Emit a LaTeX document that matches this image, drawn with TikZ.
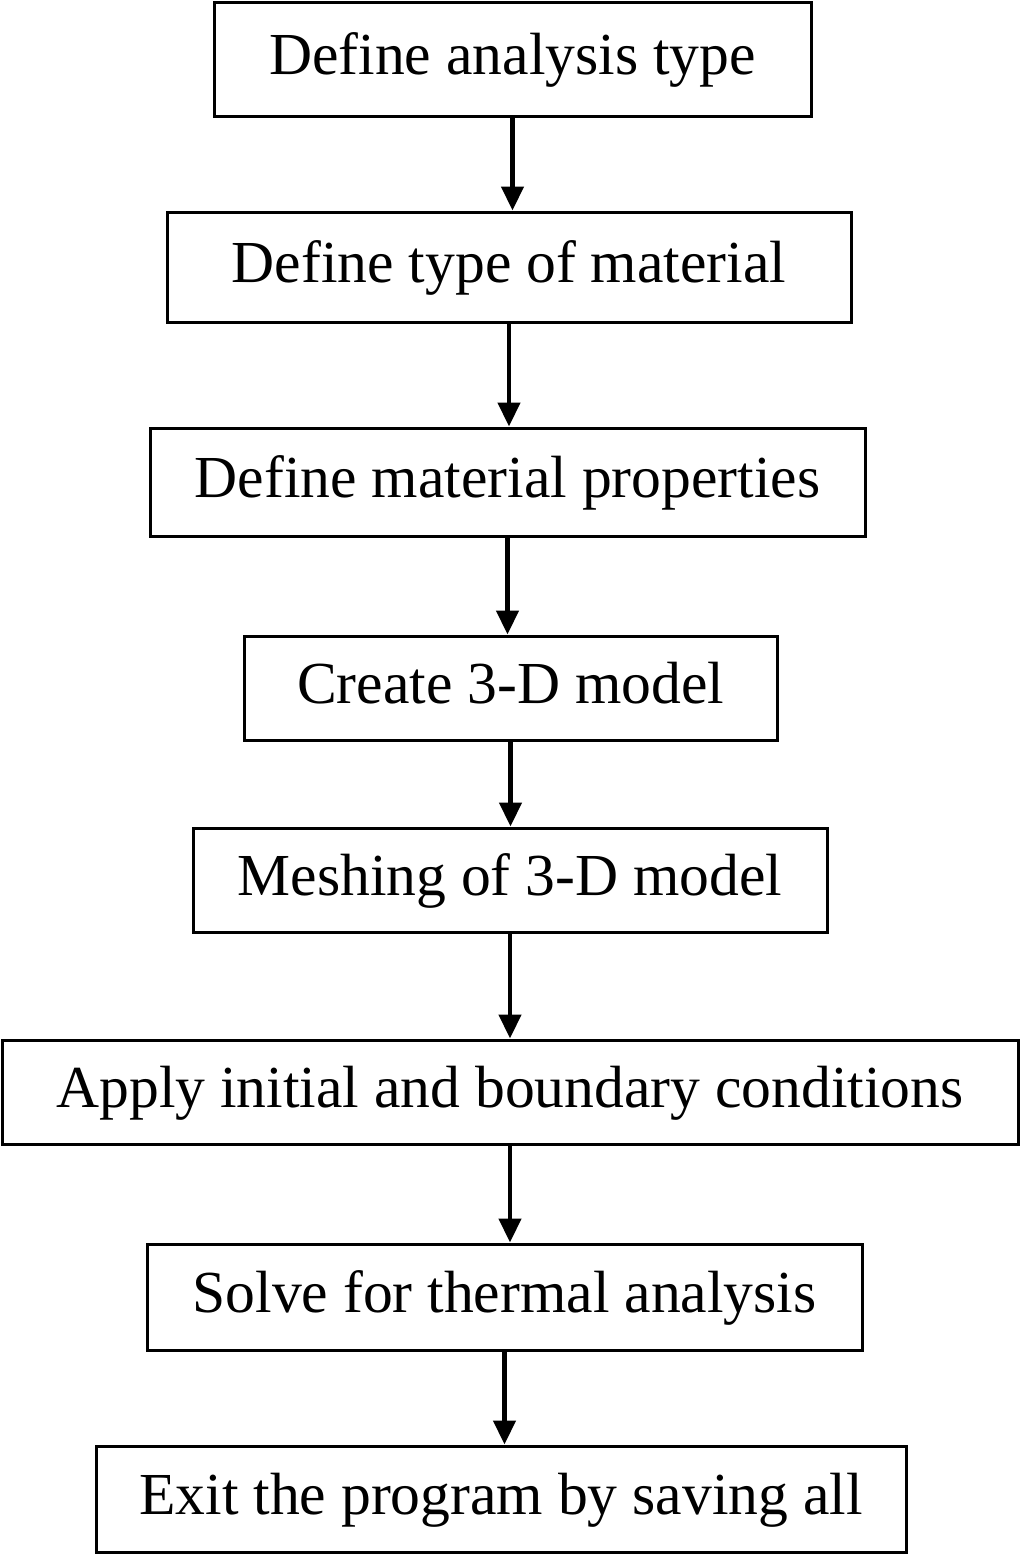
\documentclass[tikz,border=0pt]{standalone}
\usepackage{fontspec}
\setmainfont{Liberation Serif}
\usetikzlibrary{arrows.meta, positioning}

\begin{document}
\begin{tikzpicture}[x=0.5pt, y=-0.5pt,
    stage/.style={draw, line width=1.5pt, inner sep=0pt, text height=20pt, text depth=5pt, font=\fontsize{29.8}{32}\selectfont},
    flow/.style={line width=2.2pt, -{Triangle[length=12pt, width=11pt]}}]
    % Frame
    \useasboundingbox (0,0) rectangle (1020,1555);

    % Steps
    \node[stage, minimum width=298.5pt, minimum height=57pt] (Analysis) at (512.5,59) {Define analysis type};
    \node[stage, minimum width=342pt, minimum height=55pt] (MatType) at (509,267) {Define type of material};
    \node[stage, minimum width=357.5pt, minimum height=54pt] (MatProp) at (507.5,482) {Define material properties};
    \node[stage, minimum width=266.5pt, minimum height=52pt] (Model) at (510.5,688) {Create 3-D model};
    \node[stage, minimum width=317pt, minimum height=52pt] (Mesh) at (510,880) {Meshing of 3-D model};
    \node[stage, minimum width=508pt, minimum height=52pt] (Bound) at (510,1092) {Apply initial and boundary conditions};
    \node[stage, minimum width=357.5pt, minimum height=53pt] (Solve) at (504.5,1297) {Solve for thermal analysis};
    \node[stage, minimum width=405pt, minimum height=53pt] (Exit) at (501,1499) {Exit the program by saving all};

    % Arrows
    \foreach \a/\b in {Analysis/MatType, MatType/MatProp, MatProp/Model, Model/Mesh, Mesh/Bound, Bound/Solve, Solve/Exit} {
        \draw[flow] (\a.south) -- (\a.south |- \b.north);
    }
\end{tikzpicture}
\end{document}
